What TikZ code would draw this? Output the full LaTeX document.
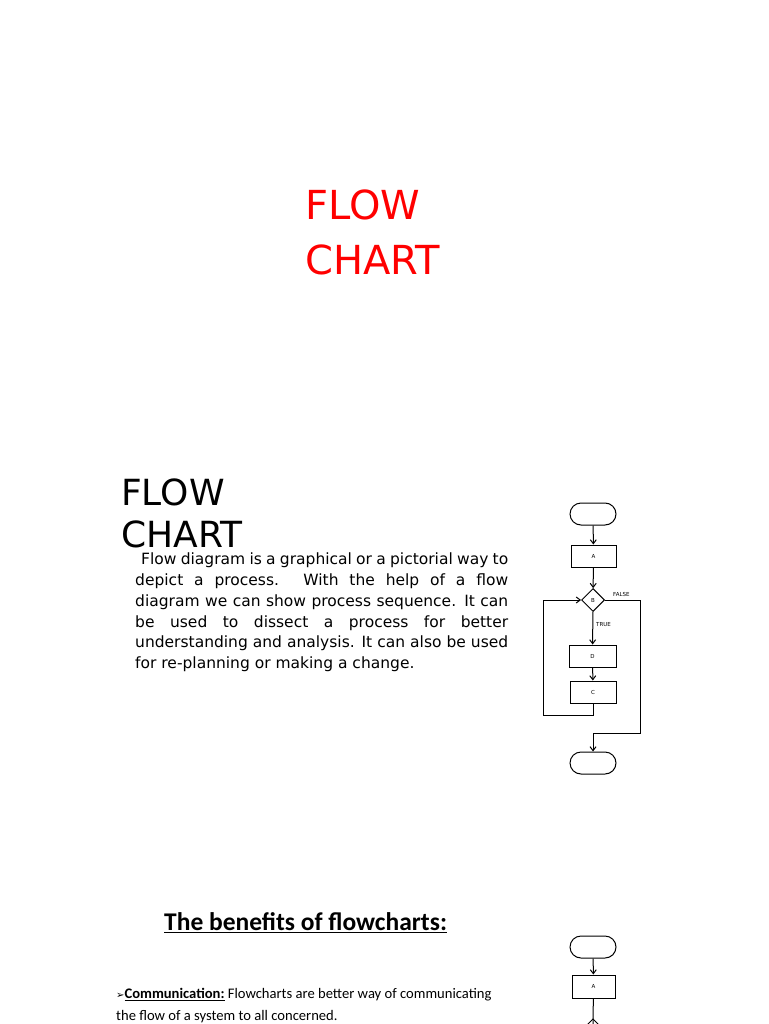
\documentclass[tikz,border=0pt]{standalone}
\usepackage{fontspec}
\setmainfont{DejaVu Sans}
\newfontfamily\carlitofont{Carlito}
\newfontfamily\djvfont{DejaVu Sans}
\usetikzlibrary{shapes.geometric,arrows.meta}
\begin{document}
\begin{tikzpicture}[x=1pt,y=-1pt,
  box/.style={draw,line width=1pt,minimum width=45pt,minimum height=22pt,inner sep=0pt,font=\fontsize{5.5}{6}\selectfont},
  term/.style={draw,line width=1pt,rounded corners=11pt,minimum width=46pt,minimum height=22pt,inner sep=0pt},
  dia/.style={draw,line width=1pt,diamond,minimum size=23pt,inner sep=0pt,font=\fontsize{5.5}{6}\selectfont},
  ln/.style={line width=1pt},
  ar/.style={line width=1pt,-{Straight Barb[length=4pt,width=6pt]}},
  lbl/.style={font=\fontsize{5.5}{6}\selectfont,inner sep=0pt}]
\useasboundingbox[fill=white] (0,0) rectangle (768,1024);
\node[red,font=\fontsize{40}{55}\selectfont,anchor=north west,align=left,inner sep=0pt] (t1) at (305,190) {FLOW\\CHART};
\node[font=\fontsize{36}{42}\selectfont,anchor=north west,align=left,inner sep=0pt] (t2) at (121,479) {FLOW\\CHART};
\node[anchor=north west,inner sep=0pt,text width=373pt,align=justify,font=\fontsize{15.5}{20.7}\selectfont] (p) at (135,553)
 {\hspace*{6pt}Flow diagram is a graphical or a pictorial way to\linebreak depict a process. With the help of a flow\linebreak diagram we can show process sequence. It can\linebreak be used to dissect a process for better\linebreak understanding and analysis. It can also be used\linebreak for re-planning or making a change.};
% flowchart 1
\node[term] (s) at (593,514) {};
\node[box] (a) at (593.5,556) {A};
\node[dia] (b) at (593,600) {B};
\node[box,minimum width=47pt] (d) at (592.5,656) {D};
\node[box,minimum width=46pt] (c) at (593,692) {C};
\node[term] (e) at (593,763) {};
\node[lbl,anchor=south west] (fl) at (613,597) {FALSE};
\node[lbl,anchor=west] (tl) at (596,625) {TRUE};
\coordinate (l1) at (593,715); \coordinate (l2) at (543,715); \coordinate (l3) at (543,600);
\coordinate (r1) at (640,600); \coordinate (r2) at (640,733); \coordinate (r3) at (593,733);
\draw[ar] (s) -- (a);
\draw[ar] (a) -- (b);
\draw[ar] (b) -- (d);
\draw[ar] (d) -- (c);
\draw[ln] (c.south) -- (l1) -- (l2) -- (l3);
\draw[ar] (l3) -- (b.west);
\draw[ln] (b.east) -- (r1) -- (r2) -- (r3);
\draw[ar] (r3) -- (e);
% texts bottom
\node[font=\carlitofont\bfseries\fontsize{25.5}{30}\selectfont,anchor=west,inner sep=0pt] (h) at (164,923) {\underline{The benefits of flowcharts:}};
\node[font=\carlitofont\fontsize{14.6}{18}\selectfont,anchor=west,inner sep=0pt] (cm) at (116,995) {{\djvfont\fontsize{10}{12}\selectfont ➢}\textbf{\underline{Communication:}} Flowcharts are better way of communicating};
\node[font=\carlitofont\fontsize{14.6}{18}\selectfont,anchor=west,inner sep=0pt] (cm2) at (116,1017) {the flow of a system to all concerned.};
% flowchart 2
\node[term] (s2) at (593,947) {};
\node[box,minimum width=43pt,minimum height=23pt] (a2) at (593.5,986.5) {A};
\coordinate (b2) at (593,1024);
\draw[ar] (s2) -- (a2);
\draw[ln] (a2) -- (b2);
\draw[ln] (586,1026) -- (593,1019) -- (600,1026);
\end{tikzpicture}
\end{document}
